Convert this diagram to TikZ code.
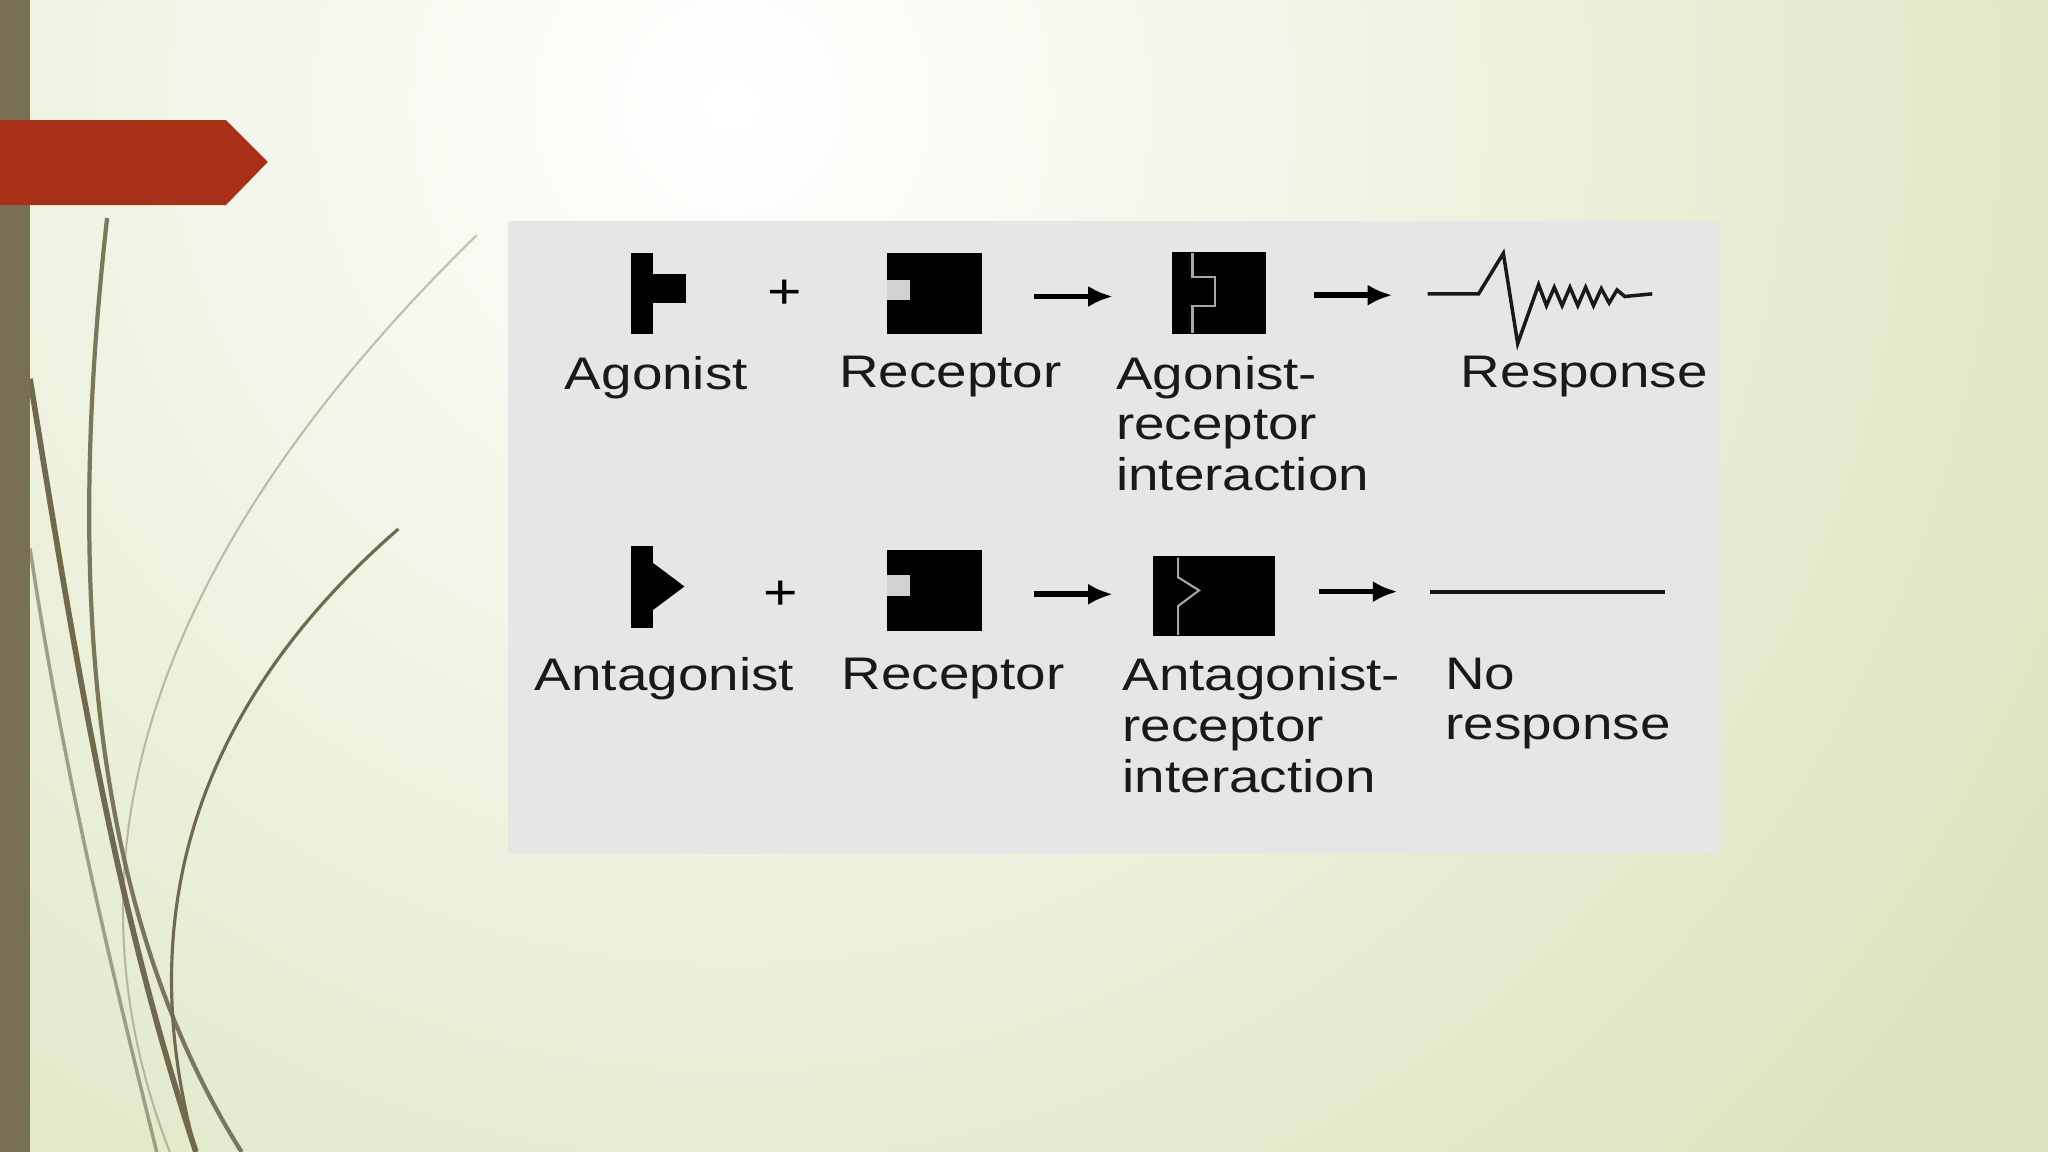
\documentclass[tikz,border=0pt]{standalone}
\usepackage{fontspec}
\newfontfamily\lab[FakeStretch=1.2]{Liberation Sans}
\usetikzlibrary{arrows.meta}
\definecolor{bgg}{HTML}{DCE4BE}
\definecolor{barc}{HTML}{786F55}
\definecolor{redc}{HTML}{A83016}
\definecolor{panel}{HTML}{E6E6E6}
\definecolor{curvec}{HTML}{6F6A4E}
\tikzset{
  lbl/.style={anchor=north west,align=left,inner sep=0pt,font=\lab\fontsize{13}{14.4}\selectfont,text=black!90},
  arr/.style={-{Latex[length=7pt,width=6pt]},line width=1.6pt},
  crv/.style={draw=curvec,line width=1.2pt},
  pt/.style={inner sep=0pt,minimum size=0pt}
}
\begin{document}
\begin{tikzpicture}[x=0.013061cm,y=-0.013061cm]
\useasboundingbox (0,0) rectangle (1568,882);
\fill[bgg] (0,0) rectangle (1568,882);
\shade[inner color=white,outer color=bgg] (560,80) circle (1150);
% curves
\draw[crv,draw opacity=0.9] (82,167) .. controls (50,450) and (70,700) .. (185,882);
\draw[crv,line width=0.6pt,draw opacity=0.4] (365,180) .. controls (120,420) and (40,650) .. (130,882);
\draw[crv,line width=0.9pt] (305,405) .. controls (150,540) and (100,700) .. (150,882);
\draw[crv,line width=1.6pt] (23,290) .. controls (60,520) and (90,700) .. (150,882);
\draw[crv,line width=1pt,draw opacity=0.6] (23,420) .. controls (50,600) and (90,760) .. (120,882);
% left bar and tag
\fill[barc] (0,0) rectangle (23,882);
\fill[redc] (0,92) -- (173,92) -- (205,124) -- (173,157) -- (0,157) -- cycle;
% panel
\fill[panel] (389,169) rectangle (1316,654);
% row 1
\fill[black] (483,194) rectangle (500,256);
\fill[black] (500,210) rectangle (525,232);
\node[pt] (plus1) at (601,225) {\lab\fontsize{14}{14}\selectfont +};
\fill[black] (679,194) rectangle (752,256);
\fill[panel!80!gray] (679,214) rectangle (697,230);
\fill[black] (897,193) rectangle (969,256);
\draw[gray!70,line width=0.6pt] (913,194) -- (913,212) -- (930,212) -- (930,234) -- (913,234) -- (913,255);
\coordinate (a1s) at (792,227); \coordinate (a1e) at (852,227);
\coordinate (a2s) at (1006,226); \coordinate (a2e) at (1066,226);
\draw[arr] (a1s) -- (a1e);
\draw[arr] (a2s) -- (a2e);
\draw[line width=1pt,gray!20!black] (1093,225) -- (1132,225) -- (1151,194) -- (1162,263) -- (1178,218) -- (1184,234) -- (1190,220) -- (1196,234) -- (1202,220) -- (1208,234) -- (1214,220) -- (1220,234) -- (1226,221) -- (1232,232) -- (1238,222) -- (1244,227) -- (1265,225);
\node[lbl] (t1) at (432,272) {Agonist};
\node[lbl] (t2) at (642,272) {Receptor};
\node[lbl] (t3) at (854,272) {Agonist-\\receptor\\interaction};
\node[lbl] (t4) at (1118,272) {Response};
% row 2
\fill[black] (483,418) rectangle (500,481);
\fill[black] (500,431) -- (524,449) -- (500,467) -- cycle;
\node[pt] (plus2) at (598,456) {\lab\fontsize{14}{14}\selectfont +};
\fill[black] (679,421) rectangle (752,483);
\fill[panel!80!gray] (679,440) rectangle (697,456);
\fill[black] (883,426) rectangle (976,487);
\draw[gray!70,line width=0.6pt] (902,427) -- (902,442) -- (918,452) -- (902,464) -- (902,486);
\coordinate (b1s) at (792,455); \coordinate (b1e) at (852,455);
\coordinate (b2s) at (1010,453); \coordinate (b2e) at (1070,453);
\draw[arr] (b1s) -- (b1e);
\draw[arr] (b2s) -- (b2e);
\coordinate (nl1) at (1095,453); \coordinate (nl2) at (1275,453);
\draw[line width=1.2pt,gray!20!black] (nl1) -- (nl2);
\node[lbl] (u1) at (409,503) {Antagonist};
\node[lbl] (u2) at (644,503) {Receptor};
\node[lbl] (u3) at (859,503) {Antagonist-\\receptor\\interaction};
\node[lbl] (u4) at (1106,503) {No\\response};
\end{tikzpicture}
\end{document}
